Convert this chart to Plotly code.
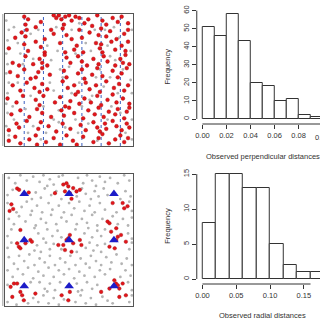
import plotly.graph_objects as go

# ---------------- data ----------------
transect_x = [15, 30, 45, 60, 75, 90]

top_red = [
 (15,98),(18,96),(16,92),(28,94),(38,99),(40,97),(42,99),(44,96),(47,98),(50,99),(52,95),(55,98),(58,97),(46,92),(62,93),(65,96),(68,91),(72,99),(76,95),(79,92),(84,97),(88,94),(91,98),(96,93),(24,90),
 (13,86),(16,83),(17,88),(31,81),(36,88),(38,85),(45,89),(48,84),(58,88),(60,82),(66,86),(73,84),(75,89),(79,83),(82,87),(87,81),(93,85),(96,88),(8,82),(52,81),
 (3,74),(15,77),(18,72),(24,79),(28,75),(31,71),(43,78),(54,73),(56,76),(61,71),(71,78),(74,74),(76,71),(75,77),(83,79),(86,73),(91,76),(94,72),(96,79),(47,71),
 (6,63),(16,68),(22,62),(27,66),(29,63),(31,69),(33,61),(48,67),(51,63),(57,68),(60,64),(64,61),(69,66),(73,62),(77,68),(80,64),(86,61),(90,66),(92,63),(94,69),(97,62),(11,61),
 (4,56),(10,53),(15,58),(24,52),(26,56),(29,59),(35,54),(46,57),(48,52),(57,55),(60,58),(62,51),(68,54),(72,59),(76,53),(84,57),(88,52),(91,55),(95,59),(20,51),
 (6,46),(12,42),(17,48),(23,44),(27,41),(29,47),(33,43),(45,49),(49,44),(54,46),(57,41),(63,48),(66,43),(71,46),(74,41),(79,49),(85,44),(89,47),(93,42),(96,46),
 (2,36),(9,33),(14,38),(24,35),(27,31),(30,38),(39,33),(43,37),(51,34),(55,39),(58,32),(62,36),(67,33),(72,38),(75,31),(80,35),(84,39),(87,33),(92,36),(97,32),(47,30),
 (5,24),(12,27),(19,22),(25,28),(29,25),(36,22),(44,27),(46,23),(50,29),(54,25),(61,21),(65,27),(70,24),(73,29),(77,22),(81,26),(86,24),(88,28),(93,21),(95,26),(97,29),
 (3,12),(9,17),(11,14),(17,19),(26,13),(28,18),(34,15),(40,11),(45,17),(51,13),(59,16),(63,12),(69,18),(72,14),(74,11),(78,17),(79,13),(84,19),(87,15),(91,12),(95,17),(97,14),
 (3,4),(8,7),(12,2),(19,5),(24,8),(32,3),(38,6),(43,1),(48,8),(53,4),(56,1),(61,7),(69,3),(73,6),(76,9),(81,2),(86,5),(90,8),(93,3),(96,6),(25,1),
]

top_grey = [
 (1,95),(3,88),(2,80),(1,70),(2,62),(1,55),(3,48),(2,40),(1,32),(2,25),(1,15),(3,8),(7,90),(10,78),(12,70),(20,85),(22,66),(26,88),(33,76),(36,65),
 (40,90),(41,72),(43,58),(52,88),(55,70),(58,93),(63,78),(67,72),(70,88),(80,76),(82,68),(85,90),(89,82),(92,58),(98,72),(98,50),(10,48),(20,38),(35,48),(38,42),
 (42,27),(45,52),(52,40),(58,48),(68,38),(71,52),(77,45),(82,52),(88,40),(99,40),(6,30),(16,28),(22,15),(32,10),(38,20),(42,18),(55,20),(65,17),(72,4),(80,20),
 (83,30),(90,25),(94,10),(99,20),(7,20),(18,10),(28,5),(47,14),(57,10),(66,35),(74,58),(50,60),(30,30),(60,30),(78,88),(86,65),(14,62),(99,88),(99,5),
]

bottom_grey = [
 (3,97),(8,93),(12,99),(17,95),(22,98),(27,94),(30,99),(35,96),(38,92),(42,98),(57,97),(61,93),(64,99),(68,95),(71,91),(74,98),(78,94),(82,97),(88,93),(93,99),(97,95),(45,99),(33,91),
 (2,84),(6,88),(24,86),(28,82),(31,89),(36,84),(40,87),(44,81),(56,83),(60,89),(63,85),(67,81),(70,87),(73,83),(77,89),(80,84),(90,81),(94,87),(98,83),(21,81),
 (2,78),(9,71),(13,75),(17,79),(21,72),(25,76),(29,71),(34,78),(37,73),(42,76),(46,71),(50,78),(54,74),(58,79),(62,72),(66,76),(70,71),(74,78),(78,73),(87,71),(97,79),(99,72),
 (3,66),(7,62),(11,68),(16,64),(20,69),(24,61),(28,66),(32,63),(36,69),(40,62),(44,67),(48,64),(52,69),(56,62),(60,66),(64,63),(68,69),(72,61),(76,66),(84,68),(88,62),(92,66),(96,61),(99,67),
 (2,53),(5,58),(26,55),(30,51),(33,58),(37,53),(41,57),(44,52),(62,55),(65,59),(68,52),(72,57),(75,53),(78,58),(96,55),(99,51),(23,59),(55,58),
 (2,44),(5,48),(25,46),(28,41),(32,48),(35,43),(38,47),(63,44),(66,48),(69,42),(72,46),(75,41),(78,47),(97,43),(99,48),(23,42),(56,41),(44,43),
 (3,37),(7,32),(11,38),(15,34),(19,39),(23,31),(27,36),(31,33),(35,38),(39,31),(43,36),(47,33),(51,38),(55,31),(59,36),(63,32),(67,38),(71,34),(75,31),(79,37),(83,33),(87,39),(91,32),(95,36),(99,31),
 (2,27),(6,22),(10,28),(14,24),(18,29),(22,21),(26,26),(30,23),(34,29),(38,22),(42,27),(46,24),(50,28),(54,21),(58,26),(62,23),(66,29),(70,22),(74,27),(78,24),(82,28),(90,22),(94,27),(98,23),
 (2,16),(27,18),(31,13),(35,17),(39,12),(43,18),(56,17),(60,12),(64,18),(68,13),(72,16),(96,18),(99,12),(20,18),(33,11),(57,11),
 (2,3),(9,1),(18,2),(22,6),(26,3),(30,8),(34,2),(38,6),(42,1),(46,5),(55,3),(59,8),(63,2),(67,6),(71,1),(80,4),(84,2),(97,3),(99,8),(76,7),
]

bottom_red = [
 (9.5,89),(11,88),(18.5,86),(5,77),(6.4,73.5),(3.6,72),
 (45.5,92),(48,93),(49.4,90.6),(46.8,86.8),(50.6,85.5),(53.2,89.3),(55.8,86.8),(58.4,88),(51.9,81.2),(39,85.5),
 (84,78),(91.8,78),(93,74),(95.6,75.6),(80,64),
 (12,57.6),(9.5,47.5),(10.8,44.9),(12,43.7),(16,47.5),(19.8,50),(21,48.7),
 (50.6,53.8),(49.4,51.3),(48,50),(45.5,46.2),(53.2,47.5),(58.4,50),(59.6,46.2),(46.8,42.4),(51.9,41.1),(41.6,46.2),
 (82.8,56.3),(88,52.5),(86.8,50),(90.5,53.8),(94.3,48.7),(85.6,43.7),(86.8,58.9),(81.5,44.9),(81.5,62.7),
 (4.4,14.5),(7,17),(9.5,17),(12,10.7),(13.4,8.1),(14.7,4.3),(23.7,9.4),(5.7,6.9),
 (44.2,8.1),(50.6,10.7),(49.4,4.3),
 (85.3,19.5),(86.6,17),(88,15.7),(89.2,13.2),(91.8,17),(81.5,13.2),(75,10.7),(89.2,6.9),(94.3,8.1),
]

points_x = [15, 50, 85, 15, 50, 85, 15, 50, 85]
points_y = [85, 85, 85, 50, 50, 50, 15, 15, 15]

perp_bin_left = [0.00, 0.01, 0.02, 0.03, 0.04, 0.05, 0.06, 0.07, 0.08, 0.09]
perp_counts = [51, 46, 58, 43, 20, 18, 10, 11, 2, 1]
perp_width = 0.01

rad_bin_left = [0.00, 0.02, 0.04, 0.06, 0.08, 0.10, 0.12, 0.14, 0.16]
rad_counts = [8, 15, 15, 13, 13, 5, 2, 1, 1]
rad_width = 0.02

perp_xticks = [0.00, 0.02, 0.04, 0.06, 0.08]
perp_yticks = [0, 10, 20, 30, 40, 50, 60]
rad_xticks = [0.00, 0.05, 0.10, 0.15]
rad_yticks = [0, 5, 10, 15]

FONT = "Liberation Sans, Arial, sans-serif"
TXT = "#333333"
RED = "#e3151b"
GREY = "#b4b4b4"

fig = go.Figure()

# ----- top-left: line transects -----
for tx in transect_x:
    fig.add_trace(go.Scatter(x=[tx, tx], y=[0, 100], mode="lines",
                             line=dict(color="#3a5fc0", width=1, dash="dot"),
                             xaxis="x", yaxis="y", showlegend=False, hoverinfo="skip"))
fig.add_trace(go.Scatter(x=[p[0] for p in top_grey], y=[p[1] for p in top_grey], mode="markers",
                         marker=dict(size=2.8, color=GREY), xaxis="x", yaxis="y", showlegend=False))
fig.add_trace(go.Scatter(x=[p[0] for p in top_red], y=[p[1] for p in top_red], mode="markers",
                         marker=dict(size=3.8, color=RED, line=dict(width=0.4, color="#a01010")),
                         xaxis="x", yaxis="y", showlegend=False))

# ----- bottom-left: point transects -----
fig.add_trace(go.Scatter(x=[p[0] for p in bottom_grey], y=[p[1] for p in bottom_grey], mode="markers",
                         marker=dict(size=2.8, color=GREY), xaxis="x3", yaxis="y3", showlegend=False))
fig.add_trace(go.Scatter(x=[p[0] for p in bottom_red], y=[p[1] for p in bottom_red], mode="markers",
                         marker=dict(size=3.6, color=RED, line=dict(width=0.4, color="#a01010")),
                         xaxis="x3", yaxis="y3", showlegend=False))
fig.add_trace(go.Scatter(x=points_x, y=points_y, mode="markers",
                         marker=dict(size=8.5, symbol="triangle-up", color="#1c1cc8"),
                         xaxis="x3", yaxis="y3", showlegend=False))

# ----- histograms -----
fig.add_trace(go.Bar(x=[b + perp_width / 2 for b in perp_bin_left], y=perp_counts, width=perp_width,
                     marker=dict(color="white", line=dict(color="#333333", width=1)),
                     xaxis="x2", yaxis="y2", showlegend=False))
fig.add_trace(go.Bar(x=[b + rad_width / 2 for b in rad_bin_left], y=rad_counts, width=rad_width,
                     marker=dict(color="white", line=dict(color="#333333", width=1)),
                     xaxis="x4", yaxis="y4", showlegend=False))

box = dict(showline=True, mirror=True, linecolor="#555555", linewidth=1.2,
           showticklabels=False, ticks="", showgrid=False, zeroline=False, range=[0, 100])

def px_x(p):
    return p / 320.0

def px_y(p):
    return 1 - p / 320.0

tickfont = dict(family=FONT, size=7.5, color=TXT)
hist_x = dict(showline=False, showgrid=False, zeroline=False, ticks="outside", ticklen=4,
              tickcolor="#333333", tickwidth=1, tickfont=tickfont)
hist_y = dict(showline=False, showgrid=False, zeroline=False, ticks="outside", ticklen=4,
              tickcolor="#333333", tickwidth=1, tickfont=tickfont, tickangle=-90)

fig.update_layout(
    width=320, height=320, margin=dict(l=0, r=0, t=0, b=0),
    paper_bgcolor="white", plot_bgcolor="white", bargap=0,
    font=dict(family=FONT, color=TXT),
    xaxis=dict(box, domain=[px_x(3), px_x(132)]),
    yaxis=dict(box, domain=[px_y(146), px_y(14)]),
    xaxis3=dict(box, domain=[px_x(3), px_x(132)], anchor="y3"),
    yaxis3=dict(box, domain=[px_y(306), px_y(174)], anchor="x3"),
    xaxis2=dict(hist_x, domain=[px_x(196), 1], anchor="y2",
                range=[-0.0047, 0.0978], tickvals=perp_xticks,
                ticktext=["%.2f" % v for v in perp_xticks]),
    yaxis2=dict(hist_y, domain=[px_y(124), px_y(5)], anchor="x2",
                range=[-2.77, 63.1], tickvals=perp_yticks),
    xaxis4=dict(hist_x, domain=[px_x(196), 1], anchor="y4",
                range=[-0.0084, 0.174], tickvals=rad_xticks,
                ticktext=["%.2f" % v for v in rad_xticks]),
    yaxis4=dict(hist_y, domain=[px_y(284), px_y(165)], anchor="x4",
                range=[-0.714, 16.3], tickvals=rad_yticks),
)

line = dict(color="#333333", width=1)
fig.add_shape(type="line", xref="x2 domain", yref="y2", x0=0, x1=0, y0=0, y1=60, line=line)
fig.add_shape(type="line", xref="x2", yref="y2 domain", x0=0, x1=0.1, y0=0, y1=0, line=line)
fig.add_shape(type="line", xref="x4 domain", yref="y4", x0=0, x1=0, y0=0, y1=15, line=line)
fig.add_shape(type="line", xref="x4", yref="y4 domain", x0=0, x1=0.16, y0=0, y1=0, line=line)

# clipped axis strip at the left edge of the scatter panels
fig.add_shape(type="rect", xref="paper", yref="y domain", x0=0, x1=px_x(1.5), y0=0, y1=1,
              line=dict(width=0), fillcolor="#bdbdbd")
fig.add_shape(type="rect", xref="paper", yref="y3 domain", x0=0, x1=px_x(1.5), y0=0, y1=1,
              line=dict(width=0), fillcolor="#bdbdbd")

afont = dict(family=FONT, size=7.5, color=TXT)
fig.add_annotation(text="Frequency", textangle=-90, xref="paper", yref="y2", x=px_x(167), y=29,
                   showarrow=False, font=afont, xanchor="center", yanchor="middle")
fig.add_annotation(text="Frequency", textangle=-90, xref="paper", yref="y4", x=px_x(167), y=7.6,
                   showarrow=False, font=afont, xanchor="center", yanchor="middle")
fig.add_annotation(text="Observed perpendicular distances", xref="paper", yref="paper",
                   x=px_x(262.5), y=px_y(156), showarrow=False, font=afont,
                   xanchor="center", yanchor="middle")
fig.add_annotation(text="Observed radial distances", xref="paper", yref="paper",
                   x=px_x(262.5), y=px_y(315), showarrow=False, font=afont,
                   xanchor="center", yanchor="middle")
fig.add_annotation(text="0.10", xref="paper", yref="paper", x=px_x(322.7), y=px_y(137),
                   showarrow=False, font=afont, xanchor="center", yanchor="middle")

fig.write_html("out.html")
